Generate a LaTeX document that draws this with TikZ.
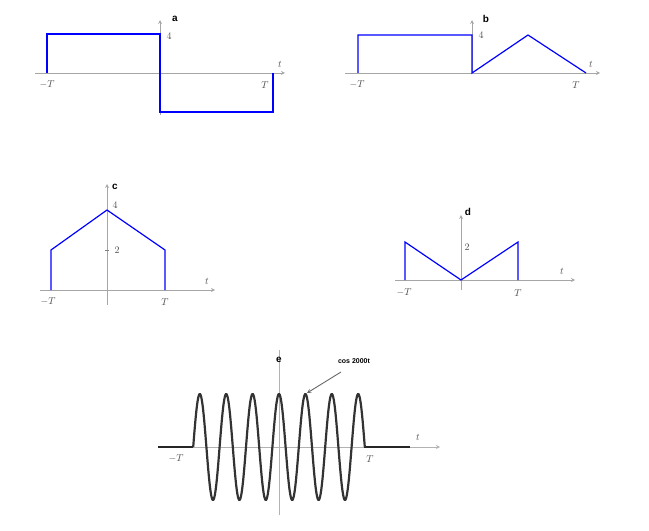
\documentclass[tikz,border=0pt]{standalone}
\usepackage{fontspec}
\newfontfamily\lab{Liberation Sans}
\begin{document}
\begin{tikzpicture}[x=1bp,y=-1bp,
 ax/.style={gray!70,line width=0.8pt,-stealth},
 sig/.style={blue,line width=1.2pt},
 ml/.style={text=black!70,font=\normalsize},
 pl/.style={font=\lab\bfseries\normalsize}]
\useasboundingbox (0,0) rectangle (649,531);
% a
\draw[ax] (35,73) -- (285,73);
\draw[ax] (160,115) -- (160,20);
\draw[sig] (47,73) -- (47,34) -- (160,34) -- (160,112) -- (273,112) -- (273,73);
\node[pl] (la) at (175,19) {a};
\node[ml] (a4) at (169,36) {4};
\node[ml] (at) at (280,64) {$t$};
\node[ml] (amt) at (47,85) {$-T$};
\node[ml] (aT) at (265,85) {$T$};
% b
\draw[ax] (345,73) -- (600,73);
\draw[ax] (472,73) -- (472,20);
\draw[sig] (358,73) -- (358,35) -- (472,35) -- (472,73) -- (528,35) -- (586,73);
\node[pl] (lb) at (486,19) {b};
\node[ml] (b4) at (481,35) {4};
\node[ml] (bt) at (591,64) {$t$};
\node[ml] (bmt) at (357,85) {$-T$};
\node[ml] (bT) at (576,85) {$T$};
% c
\draw[ax] (40,290) -- (215,290);
\draw[ax] (107,305) -- (107,184);
\draw[sig] (51,290) -- (51,250) -- (107,210) -- (165,250) -- (165,290);
\draw[gray] (105,250) -- (109,250);
\node[pl] (lc) at (115,187) {c};
\node[ml] (c4) at (115,205) {4};
\node[ml] (c2) at (117,250) {2};
\node[ml] (ct) at (207,281) {$t$};
\node[ml] (cmt) at (48,302) {$-T$};
\node[ml] (cT) at (165,302) {$T$};
% d
\draw[ax] (395,280) -- (575,280);
\draw[ax] (461,290) -- (461,215);
\draw[sig] (405,280) -- (405,242) -- (461,280) -- (518,242) -- (518,280);
\node[pl] (ld) at (468,212) {d};
\node[ml] (d2) at (467,247) {2};
\node[ml] (dt) at (562,271) {$t$};
\node[ml] (dmt) at (404,293) {$-T$};
\node[ml] (dT) at (518,293) {$T$};
% e
\draw[gray!60,line width=0.8pt,-stealth] (158,447) -- (440,447);
\draw[gray!60,line width=0.8pt] (279,350) -- (279,515);
\draw[black!85,line width=2.2pt] (158,447) -- (193,447);
\draw[black!85,line width=2.2pt] (364,447) -- (410,447);
\draw[black!80,line width=2.2pt,smooth,samples=300,domain=193.2:364.8]
  plot (\x,{447-53*cos(((\x-279)/26.4)*360)});
\node[pl] (le) at (279,360) {e};
\node[pl,font=\lab\bfseries\scriptsize] (cosl) at (354,361) {cos 2000t};
\coordinate (cp) at (307,393);
\draw[gray!80!black,line width=0.9pt,-stealth] (341,372) -- (cp);
\node[ml] (et) at (418,437) {$t$};
\node[ml] (emt) at (176,459) {$-T$};
\node[ml] (eT) at (370,459) {$T$};
\end{tikzpicture}
\end{document}
